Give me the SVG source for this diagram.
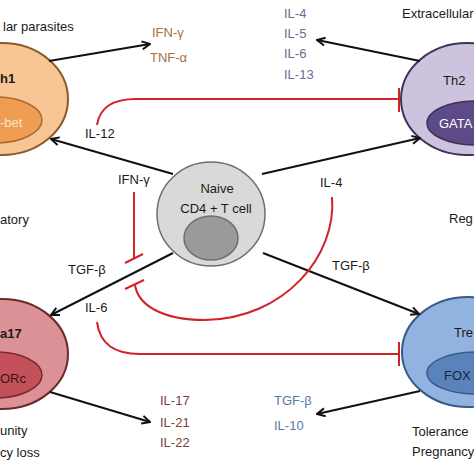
<svg xmlns="http://www.w3.org/2000/svg" width="474" height="474" viewBox="0 0 474 474">
<defs>
<style>
text{font-family:"Liberation Sans",Arial,sans-serif;font-size:13px;fill:#1a1a1a}
.blk{stroke:#111;stroke-width:2;fill:none}
.red{stroke:#d2232a;stroke-width:2;fill:none}
.brown{fill:#a8703c}
.purp{fill:#6f6a90}
.rust{fill:#7a4040}
.blue{fill:#5a7aa6}
</style>
<marker id="arr" viewBox="0 0 10 10" refX="9" refY="5" markerWidth="10" markerHeight="10" markerUnits="userSpaceOnUse" orient="auto">
<path d="M1,1 L9,5 L1,9" fill="none" stroke="#111" stroke-width="2"/>
</marker>
</defs>
<rect width="474" height="474" fill="#fff"/>

<g id="th1">
<ellipse cx="2" cy="99" rx="66" ry="56" fill="#f8c594" stroke="#8a5a2a" stroke-width="2"/>
<ellipse cx="-5" cy="120" rx="47" ry="23" fill="#ef9d52" stroke="#a86a32" stroke-width="1.5"/>
<text x="0" y="83" font-weight="bold">h1</text>
<text x="0" y="127" style="fill:#fde4c6">-bet</text>
<text x="3" y="31">lar parasites</text>
<text x="0" y="224">atory</text>
</g>

<g id="th2">
<ellipse cx="467" cy="99" rx="66" ry="56" fill="#cdc3df" stroke="#3d3458" stroke-width="2"/>
<ellipse cx="475" cy="123" rx="48" ry="22" fill="#5c4b86" stroke="#3d3458" stroke-width="1.5"/>
<text x="443" y="85">Th2</text>
<text x="439" y="128" style="fill:#fff">GATA</text>
<text x="402" y="18">Extracellular</text>
<text x="449" y="223">Reg</text>
</g>

<g id="th17">
<ellipse cx="2" cy="354" rx="66" ry="55" fill="#dc9196" stroke="#6a2a2a" stroke-width="2"/>
<ellipse cx="-5" cy="375" rx="47" ry="23" fill="#c4505a" stroke="#7a2a2e" stroke-width="1.5"/>
<text x="0" y="338" font-weight="bold">a17</text>
<text x="0" y="383" style="fill:#3a1414">ORc</text>
<text x="0" y="435">unity</text>
<text x="0" y="457">cy loss</text>
</g>

<g id="treg">
<ellipse cx="468" cy="352" rx="66" ry="55" fill="#92b3df" stroke="#3a5a8a" stroke-width="2"/>
<ellipse cx="476" cy="373" rx="49" ry="21" fill="#5a83bd" stroke="#3a5a8a" stroke-width="1.5"/>
<text x="454" y="337">Tre</text>
<text x="444" y="380" style="fill:#16233e">FOX</text>
<text x="412" y="436">Tolerance</text>
<text x="412" y="456">Pregnancy</text>
</g>

<g id="naive">
<ellipse cx="211" cy="214" rx="54" ry="52" fill="#d9d9d9" stroke="#6e6e6e" stroke-width="1.5"/>
<ellipse cx="211" cy="238" rx="27" ry="22" fill="#9a9a9a" stroke="#6e6e6e" stroke-width="1.5"/>
<text x="217" y="193" text-anchor="middle">Naive</text>
<text x="216" y="213" text-anchor="middle">CD4 + T cell</text>
</g>

<g id="connectors">
<line class="blk" x1="173" y1="174" x2="51" y2="139" marker-end="url(#arr)"/>
<line class="blk" x1="262" y1="174" x2="420" y2="138" marker-end="url(#arr)"/>
<line class="blk" x1="173" y1="253" x2="51" y2="315" marker-end="url(#arr)"/>
<line class="blk" x1="263" y1="253" x2="419" y2="314" marker-end="url(#arr)"/>
<line class="blk" x1="49" y1="61" x2="150" y2="44" marker-end="url(#arr)"/>
<line class="blk" x1="420" y1="61" x2="317" y2="40" marker-end="url(#arr)"/>
<line class="blk" x1="50" y1="392" x2="150" y2="422" marker-end="url(#arr)"/>
<line class="blk" x1="420" y1="391" x2="317" y2="414" marker-end="url(#arr)"/>

<path class="red" d="M97,125 C100,106 114,99 136,99 L399,99"/>
<line class="red" x1="399" y1="88" x2="399" y2="112"/>
<path class="red" d="M97,322 C100,345 115,354 140,354 L399,354"/>
<line class="red" x1="399" y1="342" x2="399" y2="366"/>
<line class="red" x1="134" y1="192" x2="134" y2="258"/>
<line class="red" x1="125" y1="263" x2="143" y2="254"/>
<path class="red" d="M332,197 C337,255 285,319 205,320 C162,320 138,305 135,285"/>
<line class="red" x1="125" y1="289" x2="144" y2="280"/>
</g>

<g id="labels">
<text x="152" y="37" class="brown">IFN-γ</text>
<text x="150" y="62" class="brown">TNF-α</text>
<text x="284" y="18" class="purp">IL-4</text>
<text x="284" y="38" class="purp">IL-5</text>
<text x="284" y="58" class="purp">IL-6</text>
<text x="284" y="79" class="purp">IL-13</text>
<text x="85" y="138">IL-12</text>
<text x="118" y="184">IFN-γ</text>
<text x="320" y="187">IL-4</text>
<text x="332" y="270">TGF-β</text>
<text x="68" y="274">TGF-β</text>
<text x="85" y="312">IL-6</text>
<text x="160" y="405" class="rust">IL-17</text>
<text x="160" y="427" class="rust">IL-21</text>
<text x="160" y="447" class="rust">IL-22</text>
<text x="274" y="405" class="blue">TGF-β</text>
<text x="274" y="430" class="blue">IL-10</text>
</g>
</svg>
